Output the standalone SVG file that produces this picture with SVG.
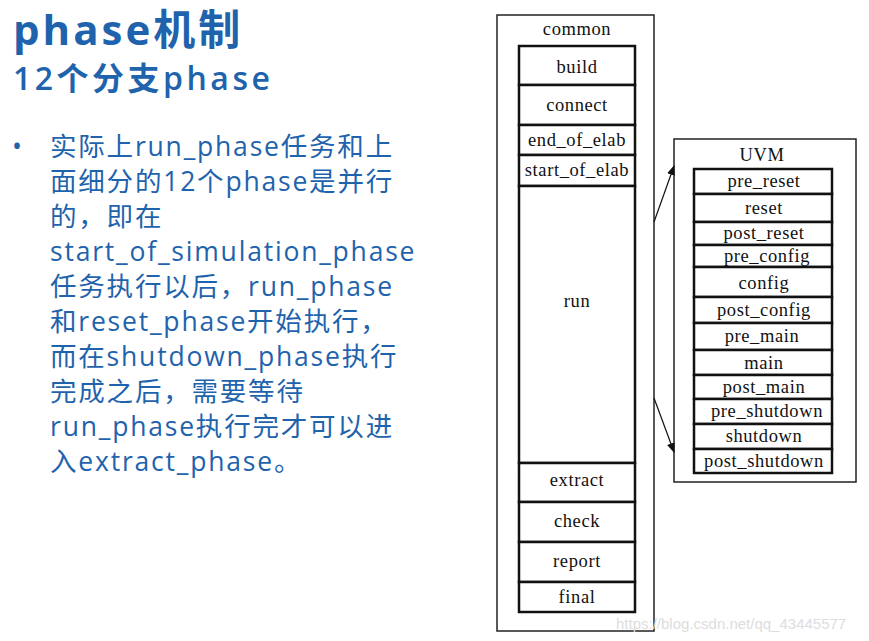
<svg xmlns="http://www.w3.org/2000/svg" width="869" height="641" viewBox="0 0 869 641">
<style>
.t{font-family:"Open Sans","Noto Sans CJK SC",sans-serif;fill:#1f63ad}
.b{font-family:"Open Sans","Noto Sans CJK SC",sans-serif;fill:#1f63ad;font-size:26.5px;letter-spacing:1.8px}
.box{fill:#fff;stroke:#222;stroke-width:1.5}
.cell{fill:#fff;stroke:#111;stroke-width:2.5}
.l{font-family:"Liberation Serif",serif;font-size:18.5px;fill:#111;text-anchor:middle;letter-spacing:0.6px}
</style>
<defs><marker id="ah" markerWidth="10" markerHeight="8" refX="9" refY="4" orient="auto" markerUnits="userSpaceOnUse"><path d="M0,0 L10,4 L0,8 Z" fill="#111"/></marker></defs>
<rect width="869" height="641" fill="#fff"/>
<g id="title">
<text class="t" x="13" y="45" font-size="42" font-weight="bold" letter-spacing="3">phase机制</text>
<text class="t" x="13" y="90" font-size="32" font-weight="600" letter-spacing="3.5">12个分支phase</text>
</g>
<g id="bullet">
<text class="b" x="12" y="156" font-size="20">•</text>
<text class="b" x="50" y="156">实际上run_phase任务和上</text>
<text class="b" x="50" y="191">面细分的12个phase是并行</text>
<text class="b" x="50" y="226">的，即在</text>
<text class="b" x="50" y="261">start_of_simulation_phase</text>
<text class="b" x="50" y="296">任务执行以后，run_phase</text>
<text class="b" x="50" y="331">和reset_phase开始执行，</text>
<text class="b" x="50" y="366">而在shutdown_phase执行</text>
<text class="b" x="50" y="401">完成之后，需要等待</text>
<text class="b" x="50" y="436">run_phase执行完才可以进</text>
<text class="b" x="50" y="471">入extract_phase。</text>
</g>
<g id="common">
<rect class="box" x="497" y="15" width="157" height="616"/>
<text class="l" x="577" y="35">common</text>
<rect class="cell" x="519" y="46" width="116" height="39"/><text class="l" x="577" y="73">build</text>
<rect class="cell" x="519" y="85" width="116" height="40"/><text class="l" x="577" y="111">connect</text>
<rect class="cell" x="519" y="125" width="116" height="30"/><text class="l" x="577" y="146">end_of_elab</text>
<rect class="cell" x="519" y="155" width="116" height="31"/><text class="l" x="577" y="176">start_of_elab</text>
<rect class="cell" x="519" y="186" width="116" height="277"/><text class="l" x="577" y="307">run</text>
<rect class="cell" x="519" y="463" width="116" height="39"/><text class="l" x="577" y="486">extract</text>
<rect class="cell" x="519" y="502" width="116" height="40"/><text class="l" x="577" y="527">check</text>
<rect class="cell" x="519" y="542" width="116" height="40"/><text class="l" x="577" y="567">report</text>
<rect class="cell" x="519" y="582" width="116" height="30"/><text class="l" x="577" y="603">final</text>
</g>
<g id="uvm">
<rect class="box" x="674" y="139" width="182" height="343"/>
<text class="l" x="762" y="161">UVM</text>
<rect class="cell" x="694" y="169" width="138" height="25"/><text class="l" x="764" y="187">pre_reset</text>
<rect class="cell" x="694" y="194" width="138" height="28"/><text class="l" x="764" y="214">reset</text>
<rect class="cell" x="694" y="222" width="138" height="23"/><text class="l" x="764" y="239">post_reset</text>
<rect class="cell" x="694" y="245" width="138" height="22"/><text class="l" x="767" y="262">pre_config</text>
<rect class="cell" x="694" y="267" width="138" height="30"/><text class="l" x="764" y="289">config</text>
<rect class="cell" x="694" y="297" width="138" height="26"/><text class="l" x="764" y="316">post_config</text>
<rect class="cell" x="694" y="323" width="138" height="27"/><text class="l" x="762" y="342">pre_main</text>
<rect class="cell" x="694" y="350" width="138" height="25"/><text class="l" x="764" y="369">main</text>
<rect class="cell" x="694" y="375" width="138" height="24"/><text class="l" x="764" y="393">post_main</text>
<rect class="cell" x="694" y="399" width="138" height="25"/><text class="l" x="767" y="417">pre_shutdown</text>
<rect class="cell" x="694" y="424" width="138" height="25"/><text class="l" x="764" y="442">shutdown</text>
<rect class="cell" x="694" y="449" width="138" height="24"/><text class="l" x="764" y="467">post_shutdown</text>
</g>
<g id="connectors" stroke="#111" stroke-width="1.2" fill="none">
<line x1="654" y1="222" x2="674" y2="166" marker-end="url(#ah)"/>
<line x1="654" y1="398" x2="674" y2="452" marker-end="url(#ah)"/>
</g>
<text x="616" y="629" font-family="Liberation Sans,sans-serif" font-size="15" fill="#ddd">https://blog.csdn.net/qq_43445577</text>
</svg>
